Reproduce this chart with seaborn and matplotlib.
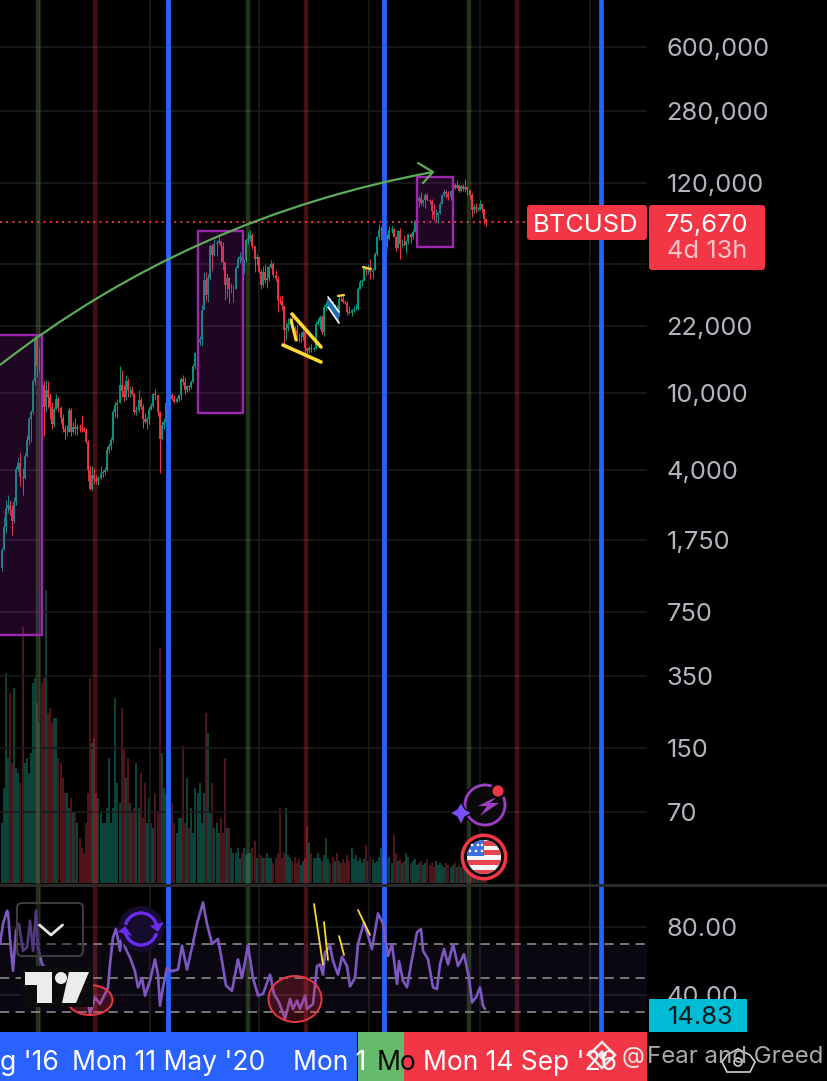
import numpy as np
import pandas as pd
import seaborn as sns
import matplotlib
matplotlib.use("Agg")
import matplotlib.pyplot as plt
from matplotlib.path import Path
from matplotlib.patches import Rectangle, Ellipse, FancyBboxPatch, Circle, Polygon, Arc, PathPatch

sns.set_theme(style="dark")
plt.rcParams['font.family'] = ['Inter', 'DejaVu Sans']

# ---------- data ----------
close_17 = [1250,1550,2050,2550,2650,2500,2200,2750,4050,4350,3700,3650,4750,5700,7300,8000,11500,19000,13800]
high_17 = [1280,1600,2300,2800,3000,2800,2650,2900,4200,4700,4900,4100,4900,6100,7500,8200,11800,19800,17000]
low_17 = [1150,1220,1550,1900,2400,2350,1850,2150,2650,3950,3300,3000,3600,4700,5400,5600,7800,11000,12000]
close_18 = [13800,11000,8500,10300,9500,8500,6900,8300,9300,8400,7400,6500,6300,6300,8200,6300,6700,6500,6700,6600,6500,6400,5600,4000,3200,3800]
high_18 = [17200,14500,11500,11700,11500,10000,9000,8500,9900,9500,8600,7800,6800,6800,8500,8400,7100,7400,6900,6900,7700,6700,6600,5700,4200,4200]
low_18 = [12800,9800,6000,8000,8400,7300,6500,6700,8200,8000,7000,6300,5800,6000,6300,6000,6200,6100,6100,6300,6300,6300,5500,3500,3150,3150]
close_19 = [3600,3500,3650,3850,3900,4000,5100,5300,5700,8000,8700,8900,11000,10200,9500,11500,10300,10400,9900,8000,8200,9200,8500,7300,7100,7300]
high_19 = [4100,3800,3750,4200,4000,4150,5300,5500,5900,8300,9100,9300,13800,13100,11000,12300,11900,10900,10900,10000,8600,10400,9500,8800,7900,7500]
low_19 = [3450,3400,3350,3600,3700,3800,3950,4900,5100,5600,7500,7400,8900,9500,9100,9200,9500,9500,9700,7800,7700,8000,8300,6600,7000,6500]
close_20 = [8200,8600,9900,9700,8000,5800,6800,7100,8900,9300,9700,9300,9000,9300,9700,11800,11300,10300,10800,10700,11400,13700,16000,18200,19000,26500]
high_20 = [8500,8900,10000,10500,9200,8100,7200,7400,9400,9900,10200,10000,9800,9500,9800,12000,12400,12000,11000,11000,11700,14000,16300,18900,19500,28400]
low_20 = [6900,8200,8400,9300,7600,3850,5700,6500,6700,8100,8700,9200,8900,8900,9100,9200,11000,9900,10100,10200,10500,11200,13200,15800,17600,17500]
close_21 = [38000,32000,38900,57000,51000,58000,59000,60000,57000,47000,36000,39000,34000,34000,34000,44000,49000,50000,47500,48000,61000,62000,65000,57000,49000,50000]
high_21 = [41900,42000,41000,58300,58000,61700,61200,64800,60000,59500,46000,41300,39400,36600,36000,44700,50500,53000,52800,48800,62000,67000,69000,66300,53000,52000]
low_21 = [27800,29500,29200,38000,43000,50400,50500,58000,47000,43000,30000,31000,29000,32700,29300,34000,43800,46500,42800,40700,47000,58000,60000,55000,42000,45500]
close_22 = [41800,36000,42000,38000,39000,44500,46000,40400,38500,30000,29500,28000,21000,21500,22500,23000,21500,21000,19400,19300,19300,20600,17000,16500,17100,16800]
high_22 = [47500,43500,44800,45800,45000,45400,48200,47000,42900,40000,31400,32000,28000,23000,24200,24600,25000,22000,22700,20300,20500,21000,21400,17000,17500,17800]
low_22 = [41100,34000,34900,36500,34400,37600,44000,39500,37500,26000,28500,26700,17600,18700,20800,22500,20800,19500,18500,18200,18200,18700,15500,15500,16000,16300]
close_23 = [17000,22700,23000,24600,20500,27500,28400,30300,29200,26900,27000,25800,30500,30300,29200,29000,26000,25800,26500,27000,27000,34000,37000,37500,43800,43000]
high_23 = [17300,23300,24200,25200,25000,28500,29200,31000,30100,29800,28500,28400,31400,31500,31800,30000,29700,28100,27000,28000,28500,35200,38000,38500,44700,44300]
low_23 = [16500,16800,22300,21400,20100,19600,26600,27700,27000,26300,25900,25000,24800,29800,29000,28600,25100,25300,24900,26000,26500,26800,34000,35600,37500,40500]
close_24 = [44000,41600,43000,51500,63000,68400,69700,65700,63200,61500,68500,69300,63200,55800,68000,58000,58500,57300,60000,65800,63000,67000,76500,97000,100000,95000,98000]
high_24 = [45900,48900,44000,52800,64000,73800,71800,72700,67200,65500,71900,71900,70000,63800,68400,70000,61800,65000,60700,66500,66500,69500,77000,99800,104000,108300,99000]
low_24 = [40700,38500,38500,42800,50600,60800,60700,64500,59600,56500,60800,66600,63000,53500,55700,49000,56000,57000,52500,58000,59000,62000,66800,76000,90500,92500,91800]
close_25 = [104000,97500,96500,86000,82500,82500,84000,94000,104000,108000,105500,101000,109000,117500,113500,117500,108500,115500,112000,115000,110000,104000,87000,90000,88000,88000]
high_25 = [106000,107000,99500,99500,94000,88000,85500,95700,105000,111900,110000,109000,110500,123000,120000,124500,117000,116800,118000,126000,116000,111000,107000,93000,94500,90000]
low_25 = [89300,97000,94000,78200,76500,76700,74500,83500,93400,101500,100300,98200,98000,107500,112000,112500,107300,107200,108700,108000,103500,98900,80500,83900,84500,86500]
close_26 = [93000,88000,78000,75670]
high_26 = [97500,95000,88000,79000]
low_26 = [87000,84000,74000,72000]

volume = [45,60,95,210,125,190,120,195,115,110,100,256,120,125,110,130,200,205,180,160,
          200,205,293,170,175,160,165,165,125,120,105,90,90,75,85,70,70,60,45,35,
          30,60,90,205,140,145,90,85,70,60,60,75,125,60,75,185,100,80,175,135,
          105,125,80,70,75,120,75,110,65,100,60,85,60,55,90,70,235,130,95,90,
          100,75,80,60,50,65,65,137,60,105,55,75,50,95,90,100,60,90,170,150,
          70,100,55,60,50,65,50,125,55,55,35,30,30,35,25,30,35,28,30,30,
          35,42,25,30,28,25,25,30,25,25,20,25,30,75,25,30,75,28,25,22,
          26,20,24,18,22,25,57,40,30,25,25,30,25,22,28,45,24,20,26,22,
          30,22,20,24,20,28,22,35,24,28,22,25,20,24,38,22,26,24,20,22,
          26,35,28,22,24,26,20,48,30,22,24,20,22,30,26,20,22,24,18,20,
          22,18,20,24,18,20,16,22,18,20,18,16,20,18,16,18,20,16,18,16,
          18,16,14,16,14,16,14,14,12,12,12,10]

rsi_x = [0,3,7,8,10,13,16,19,23,27,30,33,36,38,42,48,55,62,70,78,86,90,95,100,105,108,110,113,116,120,
         122,125,130,135,138,142,145,150,155,158,160,163,167,172,178,182,187,192,197,203,207,212,218,222,226,232,238,242,248,253,
         258,263,270,274,279,285,290,293,297,300,305,307,313,317,320,323,325,330,333,338,342,347,350,355,358,364,372,378,383,388,
         392,397,399,403,407,411,417,421,423,428,433,437,440,444,448,453,458,464,469,472,476,480,483,485]
rsi_v = [70,81.8,89.6,88.6,72.9,54.3,77.8,81.8,66,68,83.7,66,89.6,68,58.2,54,50,44.5,38.6,40.6,42.5,28.8,38.6,34.7,40.6,44.5,58.2,73.9,78.8,66,
         78.8,68,62,54,44.5,50,39.6,48.4,61,52,33.7,44.5,56,54,55,69,55,68,81.8,94.5,81.8,70,73,60,45.5,42.5,61,50,69,50,
         39.6,40.6,52,40.6,35.7,25.9,37.6,31.8,36.7,31.8,39.6,31.8,34.7,57,58,52,65,69,60,52,62.5,57,45,50,70,82.7,67,88,81.8,63,
         70,46.5,60,48.4,44.5,58,76.9,78.8,66,61,44.5,43.5,58,67,58,70,57,64,50,35.7,38.6,44.5,33.7,31.8]

price_ticks = [600000,280000,120000,46000,22000,10000,4000,1750,750,350,150,70]
price_labels = ['600,000','280,000','120,000','','22,000','10,000','4,000','1,750','750','350','150','70']
rsi_ticks = [80,40]
rsi_labels = ['80.00','40.00']
rsi_bands = [70,50,30]
halvings = ['2020-05-11','2024-04-15','2028-03-25']
tops = ['2017-12-29','2021-10-24','2025-10-31']
bottoms = ['2019-01-11','2022-11-13','2026-09-14']
grid_dates = ['2018-01-12','2020-01-12','2022-01-05','2024-01-04','2026-01-10','2028-01-11']

close = close_17+close_18+close_19+close_20+close_21+close_22+close_23+close_24+close_25+close_26
high = high_17+high_18+high_19+high_20+high_21+high_22+high_23+high_24+high_25+high_26
low = low_17+low_18+low_19+low_20+low_21+low_22+low_23+low_24+low_25+low_26
start = pd.Timestamp('2017-04-21')
PX_PER_DAY = 0.1506
dates = pd.date_range('2017-04-17', periods=len(close), freq='14D')
opens = [close[0]] + close[:-1]
up = np.array(close) >= np.array(opens)
n = min(len(close), len(volume))

# ---------- layout (pixels) ----------
W, H = 828, 1081
PANE_R = 647
PRICE_B = 885
RSI_T, RSI_B = 887, 1032
xlim = (start, start + pd.Timedelta(days=PANE_R/PX_PER_DAY))
BLACK = '#000000'
def ypos(l, t, r, b):
    return [l/W, 1-b/H, (r-l)/W, (b-t)/H]

fig = plt.figure(figsize=(W/100, H/100), dpi=100, facecolor=BLACK)
axv = fig.add_axes(ypos(0,0,PANE_R,PRICE_B), facecolor=BLACK, zorder=1)
ax = fig.add_axes(ypos(0,0,PANE_R,PRICE_B), facecolor='none', zorder=2)
axr = fig.add_axes(ypos(0,RSI_T,PANE_R,RSI_B), facecolor=BLACK, zorder=2)
ov = fig.add_axes([0,0,1,1], facecolor='none', zorder=5)
ov.set_xlim(0,W); ov.set_ylim(H,0); ov.axis('off')

TEAL, RED = '#089981', '#f23645'
GRID = '#1b1b1b'
GREY = '#b2b5be'
FS = 18.3

# volume
v_cols = ['#0f5349' if u else '#611b21' for u in up[:n]]
axv.vlines(dates[:n], 0, volume[:n], colors=v_cols, lw=1.15)
axv.set_xlim(xlim); axv.set_ylim(-2, 883)
axv.set_xticks([]); axv.set_yticks([])
for s in axv.spines.values(): s.set_visible(False)

# price
ax.set_yscale('log')
ax.set_ylim(10**(5.778+(47-PRICE_B)/194.5), 10**(5.778+47/194.5))
ax.set_xlim(xlim)
cols = [TEAL if u else RED for u in up]
ax.vlines(dates, low, high, colors=cols, lw=0.7, zorder=3)
ax.vlines(dates, np.minimum(opens, close), np.maximum(opens, close), colors=cols, lw=1.35, zorder=3)
ax.axhline(close[-1], color=RED, lw=1.4, ls=(0,(1,2.2)), xmax=527/PANE_R, zorder=4)

for a in (ax, axr):
    for d in bottoms: a.axvline(pd.Timestamp(d), color=RED, alpha=0.28, lw=3.2, zorder=5)
    for d in tops: a.axvline(pd.Timestamp(d), color='#6b9b50', alpha=0.33, lw=3.2, zorder=5)
    for d in halvings: a.axvline(pd.Timestamp(d), color='#2962ff', lw=3.4, zorder=6)
    a.set_xticks(pd.to_datetime(grid_dates)); a.set_xticklabels([])
    a.grid(True, color=GRID, lw=1.2)
    a.set_axisbelow(True)
    a.tick_params(axis='x', length=0)
    for s in a.spines.values(): s.set_visible(False)
    a.yaxis.tick_right()
ax.minorticks_off()
ax.set_yticks(price_ticks); ax.set_yticklabels(price_labels)
ax.tick_params(axis='y', length=0, pad=14, labelsize=FS, labelcolor=GREY)

# RSI
r_dates = [start + pd.Timedelta(days=float(x)/PX_PER_DAY) for x in rsi_x]
axr.set_xlim(xlim)
axr.set_ylim(70-(RSI_B-944)/1.7, 70+(944-RSI_T)/1.7)
axr.axhspan(rsi_bands[-1], rsi_bands[0], color='#7e57c2', alpha=0.09, lw=0, zorder=1)
for b in rsi_bands:
    axr.axhline(b, color='#8a8a8a', lw=1.2, ls=(0,(5.5,3.8)), zorder=2)
sns.lineplot(x=r_dates, y=rsi_v, ax=axr, color='#7e57c2', lw=1.9, zorder=7, estimator=None, sort=False)
axr.set_yticks(rsi_ticks); axr.set_yticklabels(rsi_labels)
axr.tick_params(axis='y', length=0, pad=14, labelsize=FS, labelcolor=GREY)
axr.set_xlabel(''); axr.set_ylabel('')

# ---------- drawing-tool shapes, logos, labels (overlay in pixels) ----------
ov.add_patch(Rectangle((0,884),W,3,color='#2a2a2a',lw=0))
BOX_F, BOX_E = (0.61,0.15,0.69,0.2), '#9c27b0'
for (l,t,r,b) in [(-5,335,42,635),(198,231,243,413),(417,177,453,247)]:
    ov.add_patch(Rectangle((l,t),r-l,b-t,fc=BOX_F,ec=BOX_E,lw=1.7))
ov.add_patch(PathPatch(Path([(0,365),(190,217),(433,172)],[Path.MOVETO,Path.CURVE3,Path.CURVE3]),
                       fc='none',ec='#5cab58',lw=1.6))
ov.plot([418,433,423],[163,172,183],color='#5cab58',lw=1.6)
YEL='#fdd835'
for seg,lw in [(((283,345),(321,362)),2.6),(((292,314),(321,347)),2.6),(((291,320),(296,340)),2.2),
               (((363,267),(371,269)),1.6),(((338,296),(344,295)),1.6),
               (((314,904),(323,965)),1.3),(((324,922),(328,960)),1.3),(((339,936),(344,955)),1.3),(((358,910),(370,935)),1.3)]:
    ov.plot([seg[0][0],seg[1][0]],[seg[0][1],seg[1][1]],color=YEL,lw=lw,solid_capstyle='round')
ov.add_patch(Polygon([(328,297),(339,312),(339,323),(328,307)],fc='#1f6fb5',lw=0))
for seg in [((328,297),(339,312)),((328,307),(339,323))]:
    ov.plot([seg[0][0],seg[1][0]],[seg[0][1],seg[1][1]],color='white',lw=1.2)
for (cx,cy,w,h) in [(90,1000,45,30),(295,999,53,46)]:
    ov.add_patch(Ellipse((cx,cy),w,h,fc=(0.95,0.2,0.27,0.22),ec='#e53945',lw=1.4))

# button and refresh icon
ov.add_patch(FancyBboxPatch((21,907),58,45,boxstyle='round,pad=4,rounding_size=5',fc=(0,0,0,0.35),ec='#3c3c3c',lw=1.5))
ov.plot([39.5,51,62.5],[925,935,925],color='#e6e6e6',lw=2)
ov.add_patch(Circle((141,929),23,fc='#160c2e',lw=0))
ov.add_patch(Arc((141,929),32,32,theta1=195,theta2=345,ec='#6a2cf0',lw=2.4))
ov.add_patch(Arc((141,929),32,32,theta1=15,theta2=165,ec='#6a2cf0',lw=2.4))
ov.add_patch(Polygon([(150,926),(158,932),(164,922)],fc='#6a2cf0',lw=0))
ov.add_patch(Polygon([(118,932),(125,926),(132,936)],fc='#6a2cf0',lw=0))

# TradingView logo
ov.add_patch(Rectangle((21,966),72,41,fc='#0b0b0b',lw=0))
LOGO='#ececec'
ov.add_patch(Polygon([(25,972),(52,972),(52,1003),(37,1003),(37,985),(25,985)],fc=LOGO,lw=0))
ov.add_patch(Circle((61,978),6,fc=LOGO,lw=0))
ov.add_patch(Polygon([(69,972),(89,972),(76,1003),(62,1003)],fc=LOGO,lw=0))

# icons
ov.add_patch(Circle((485,805),23,fc='#0a0a0a',lw=0))
ov.add_patch(Circle((485,805),20,fc='none',ec='#9c3fc4',lw=2))
ov.add_patch(Polygon([(498,796),(478,806),(487,806),(480,816),(499,803),(490,803)],fc='#9c3fc4',lw=0))
ov.add_patch(Circle((498,791),8,fc='#0a0a0a',lw=0))
ov.add_patch(Circle((498,791),5.5,fc='#f23645',lw=0))
ov.add_patch(Polygon([(461,802),(465,809),(472,813),(465,817),(461,825),(457,817),(450,813),(457,809)],fc='#7c4dff',ec='#0a0a0a',lw=1))
ov.add_patch(Circle((484,857),23.5,fc='#f23645',lw=0))
ov.add_patch(Circle((484,857),20,fc='#0a0a0a',lw=0))
disc = Circle((484,857),17,fc='#f5f5f5',lw=0)
ov.add_patch(disc)
for yy,hh in [(841,4.5),(850,5),(860,5),(870,5)]:
    ov.add_patch(Rectangle((466,yy),36,hh,fc='#e8444f',lw=0,clip_path=disc))
ov.add_patch(Rectangle((466,839),18,17,fc='#3d6fe0',lw=0,clip_path=disc))
for (sx,sy) in [(472,845),(478,845),(470,851),(476,851),(482,845),(482,851)]:
    ov.add_patch(Circle((sx,sy),1.3,fc='white',lw=0))

# price labels
ov.add_patch(FancyBboxPatch((529,207),116,31,boxstyle='round,pad=2,rounding_size=3',fc=RED,lw=0))
ov.add_patch(FancyBboxPatch((651,207),112,61,boxstyle='round,pad=2,rounding_size=3',fc=RED,lw=0))
ov.text(586,225,'BTCUSD',color='white',fontsize=FS,ha='center',va='center')
ov.text(707,225,'75,670',color='white',fontsize=FS,ha='center',va='center')
ov.text(707,252,'4d 13h',color='#f9c4c9',fontsize=FS,ha='center',va='center')
ov.add_patch(Rectangle((649,999),98,33,fc='#00bcd4',lw=0))
ov.text(701,1018,'14.83',color='#0a1a1e',fontsize=FS,ha='center',va='center')

# time axis labels: only what the reference leaves visible of each one
BLUE='#2962ff'
ov.add_patch(Rectangle((0,1032),357,49,fc=BLUE,lw=0))
ov.add_patch(Rectangle((358,1032),46,49,fc='#66bb6a',lw=0))
ov.add_patch(Rectangle((404,1032),243,49,fc=RED,lw=0))
LAB = 19
YL = 1063
ov.text(0,YL,"g '16",color='white',fontsize=LAB,ha='left',va='center')
ov.text(169,YL,"Mon 11 May '20",color='white',fontsize=LAB,ha='center',va='center')
ov.text(293,YL,"Mon 1",color='white',fontsize=LAB,ha='left',va='center')
ov.text(377,YL,"Mo",color='#0a0a0a',fontsize=LAB,ha='left',va='center')
ov.text(423,YL,"Mon 14 Sep '26",color='white',fontsize=LAB,ha='left',va='center')

# watermark
ov.add_patch(Polygon([(602,1042),(615,1055),(602,1068),(589,1055)],fc='none',ec='#e8e8e8',lw=1.8))
ov.add_patch(Polygon([(602,1050),(607,1055),(602,1060),(597,1055)],fc='#e8e8e8',lw=0))
ov.text(622,1057,'@',color='#e4e4e4',fontsize=17,ha='left',va='center')
ov.text(647,1057,'Fear and Greed',color='#a9a9a9',fontsize=17.3,ha='left',va='center')
ov.add_patch(Polygon([(738,1049),(750,1055),(755,1062),(750,1072),(727,1072),(722,1062),(727,1055)],fc='none',ec='#cfcfcf',lw=1.2))
ov.add_patch(Circle((738,1062),4,fc='none',ec='#cfcfcf',lw=1.2))

fig.savefig('out.png', dpi=100, facecolor=BLACK)
